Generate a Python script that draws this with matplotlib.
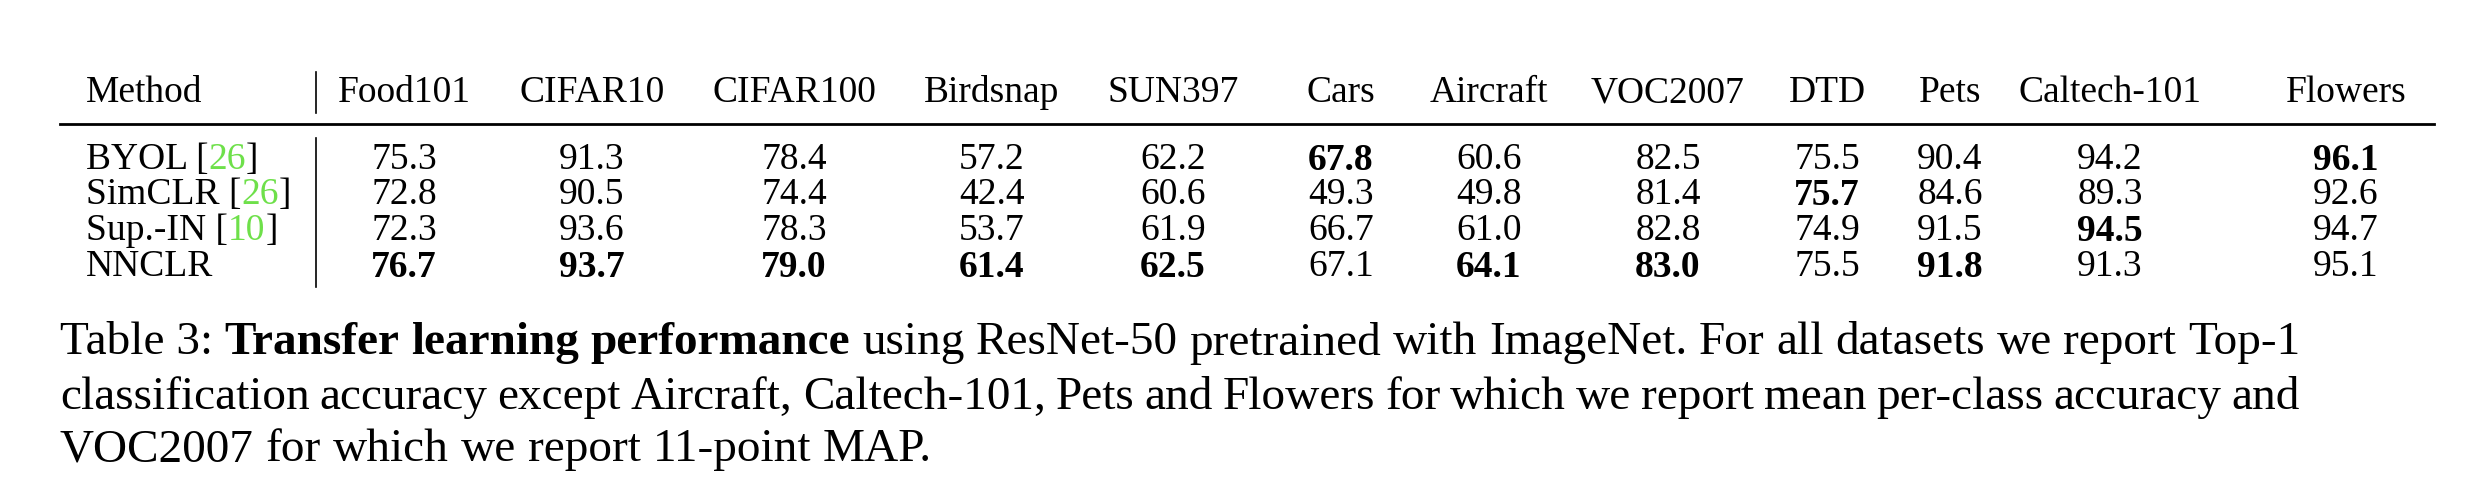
import matplotlib
matplotlib.use("Agg")
import matplotlib.pyplot as plt

plt.rcParams['font.family'] = ['Liberation Serif', 'DejaVu Serif']

columns = ["Food101", "CIFAR10", "CIFAR100", "Birdsnap", "SUN397", "Cars", "Aircraft",
           "VOC2007", "DTD", "Pets", "Caltech-101", "Flowers"]
methods = ["BYOL", "SimCLR", "Sup.-IN", "NNCLR"]
refs = ["26", "26", "10", ""]
values = [
    [75.3, 91.3, 78.4, 57.2, 62.2, 67.8, 60.6, 82.5, 75.5, 90.4, 94.2, 96.1],
    [72.8, 90.5, 74.4, 42.4, 60.6, 49.3, 49.8, 81.4, 75.7, 84.6, 89.3, 92.6],
    [72.3, 93.6, 78.3, 53.7, 61.9, 66.7, 61.0, 82.8, 74.9, 91.5, 94.5, 94.7],
    [76.7, 93.7, 79.0, 61.4, 62.5, 67.1, 64.1, 83.0, 75.5, 91.8, 91.3, 95.1],
]
caption = [
    [("Table 3:", False), ("Transfer", True), ("learning", True), ("performance", True), ("using", False),
     ("ResNet-50", False), ("pretrained", False), ("with", False), ("ImageNet.", False), ("For", False),
     ("all", False), ("datasets", False), ("we", False), ("report", False), ("Top-1", False)],
    [(w, False) for w in "classification accuracy except Aircraft, Caltech-101, Pets and Flowers for which we report mean per-class accuracy and".split()],
    [(w, False) for w in "VOC2007 for which we report 11-point MAP.".split()],
]

W, H = 2474, 494
fig = plt.figure(figsize=(W / 100, H / 100), dpi=100)
ax = fig.add_axes([0, 0, 1, 1])
ax.set_xlim(0, W)
ax.set_ylim(H, 0)
ax.axis("off")

col_x = [404, 592, 794, 992, 1173, 1341, 1489, 1668, 1827, 1950, 2110, 2346]
row_y = [160, 195, 231, 267]
fs = 27
green = "#6ee04a"

ax.text(86, 93, "Method", fontsize=fs, va="center")
for x, c in zip(col_x, columns):
    ax.text(x, 93, c, fontsize=fs, ha="center", va="center")
ax.plot([60, 2434], [124, 124], color="black", lw=2)
ax.plot([316, 316], [72, 113], color="black", lw=1.2)
ax.plot([316, 316], [138, 287], color="black", lw=1.2)

fig.canvas.draw()
r = fig.canvas.get_renderer()
inv = ax.transData.inverted()

def width(t):
    bb = t.get_window_extent(r)
    a = inv.transform((bb.x0, bb.y0))
    b = inv.transform((bb.x1, bb.y0))
    return b[0] - a[0]

for i, m in enumerate(methods):
    y = row_y[i]
    x = 86
    t = ax.text(x, y, m + (" [" if refs[i] else ""), fontsize=fs, va="center")
    if refs[i]:
        x += width(t)
        t = ax.text(x, y, refs[i], fontsize=fs, va="center", color=green)
        x += width(t)
        ax.text(x, y, "]", fontsize=fs, va="center")
    for j in range(len(columns)):
        col = [values[k][j] for k in range(len(methods))]
        bold = values[i][j] == max(col)
        ax.text(col_x[j], y, f"{values[i][j]:.1f}", fontsize=fs, ha="center", va="center",
                fontweight="bold" if bold else "normal")

cfs = 34
cap_y = [343, 398, 450]
left, right = 60, 2300
space = width(ax.text(0, 0, "a a", fontsize=cfs, alpha=0)) - 2 * width(ax.text(0, 0, "a", fontsize=cfs, alpha=0))
for li, words in enumerate(caption):
    texts = [ax.text(0, cap_y[li], w, fontsize=cfs, va="center",
                     fontweight="bold" if b else "normal") for w, b in words]
    ws = [width(t) for t in texts]
    gap = (right - left - sum(ws)) / (len(ws) - 1) if li < 2 else space
    x = left
    for t, w in zip(texts, ws):
        t.set_x(x)
        x += w + gap

fig.savefig("out.png", dpi=100)
